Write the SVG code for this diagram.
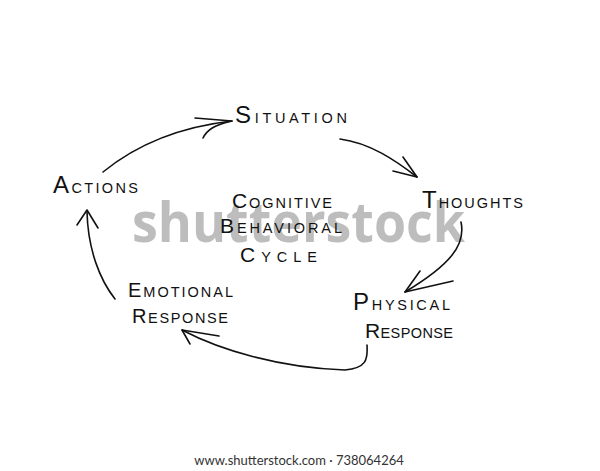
<svg xmlns="http://www.w3.org/2000/svg" width="600" height="471" viewBox="0 0 600 471">
<style>
.lbl{font-family:"Liberation Sans",Arial,sans-serif;fill:#111;}
.big{font-size:24px;}
.sm{font-size:14.5px;}
.wm{font-family:"Open Sans","Liberation Sans",sans-serif;font-weight:bold;font-size:56px;fill:#bdbdbd;}
.foot{font-family:Lato,"Liberation Sans",sans-serif;font-size:13px;fill:#333;}
.c{fill:none;stroke:#111;stroke-width:1.6;stroke-linecap:round;stroke-linejoin:round;}
</style>
<rect width="600" height="471" fill="#fff"/>
<text class="wm" x="132" y="242" textLength="333" lengthAdjust="spacingAndGlyphs">shutterstock</text>
<g id="connectors">
<path class="c" d="M103,172 C130,150 170,128 232,121"/>
<path class="c" d="M195,118 L232,121 M203,138 C207,130 214,125 232,121"/>
<path class="c" d="M340,139 C370,143 395,160 417,177"/>
<path class="c" d="M403,157 L417,177 L393,171"/>
<path class="c" d="M461,222 C466,245 450,265 405,292"/>
<path class="c" d="M420,271 L405,292 L453,281"/>
<path class="c" d="M367,345 C368,360 366,368 345,370 C280,368 220,350 182,330"/>
<path class="c" d="M219,336 L182,330 L190,344"/>
<path class="c" d="M115,299 C100,280 88,250 87,212"/>
<path class="c" d="M77,225 L87,210 L98,228"/>
</g>
<g id="situation"><text class="lbl" x="235" y="123" textLength="112" lengthAdjust="spacing"><tspan class="big">S</tspan><tspan class="sm">ITUATION</tspan></text></g>
<g id="actions"><text class="lbl" x="53" y="193" textLength="85" lengthAdjust="spacing"><tspan class="big">A</tspan><tspan class="sm">CTIONS</tspan></text></g>
<g id="thoughts"><text class="lbl" x="422" y="208" textLength="101" lengthAdjust="spacing"><tspan class="big">T</tspan><tspan class="sm">HOUGHTS</tspan></text></g>
<g id="center">
<text class="lbl" x="232" y="208" textLength="100" lengthAdjust="spacing"><tspan style="font-size:21px">C</tspan><tspan class="sm">OGNITIVE</tspan></text>
<text class="lbl" x="220" y="233" textLength="122" lengthAdjust="spacing"><tspan style="font-size:21px">B</tspan><tspan class="sm">EHAVIORAL</tspan></text>
<text class="lbl" x="240" y="262" textLength="77" lengthAdjust="spacing"><tspan style="font-size:21px">C</tspan><tspan class="sm">YCLE</tspan></text>
</g>
<g id="emotional">
<text class="lbl" x="128" y="297" textLength="105" lengthAdjust="spacing"><tspan style="font-size:20px">E</tspan><tspan class="sm">MOTIONAL</tspan></text>
<text class="lbl" x="132" y="323" textLength="96" lengthAdjust="spacing"><tspan style="font-size:20px">R</tspan><tspan class="sm">ESPONSE</tspan></text>
</g>
<g id="physical">
<text class="lbl" x="353" y="310" textLength="97" lengthAdjust="spacing"><tspan class="big">P</tspan><tspan class="sm">HYSICAL</tspan></text>
<text class="lbl" x="365" y="338" textLength="88" lengthAdjust="spacing"><tspan style="font-size:21px">R</tspan><tspan class="sm">ESPONSE</tspan></text>
</g>
<text class="foot" x="299" y="465" text-anchor="middle">www.shutterstock.com · 738064264</text>
</svg>
